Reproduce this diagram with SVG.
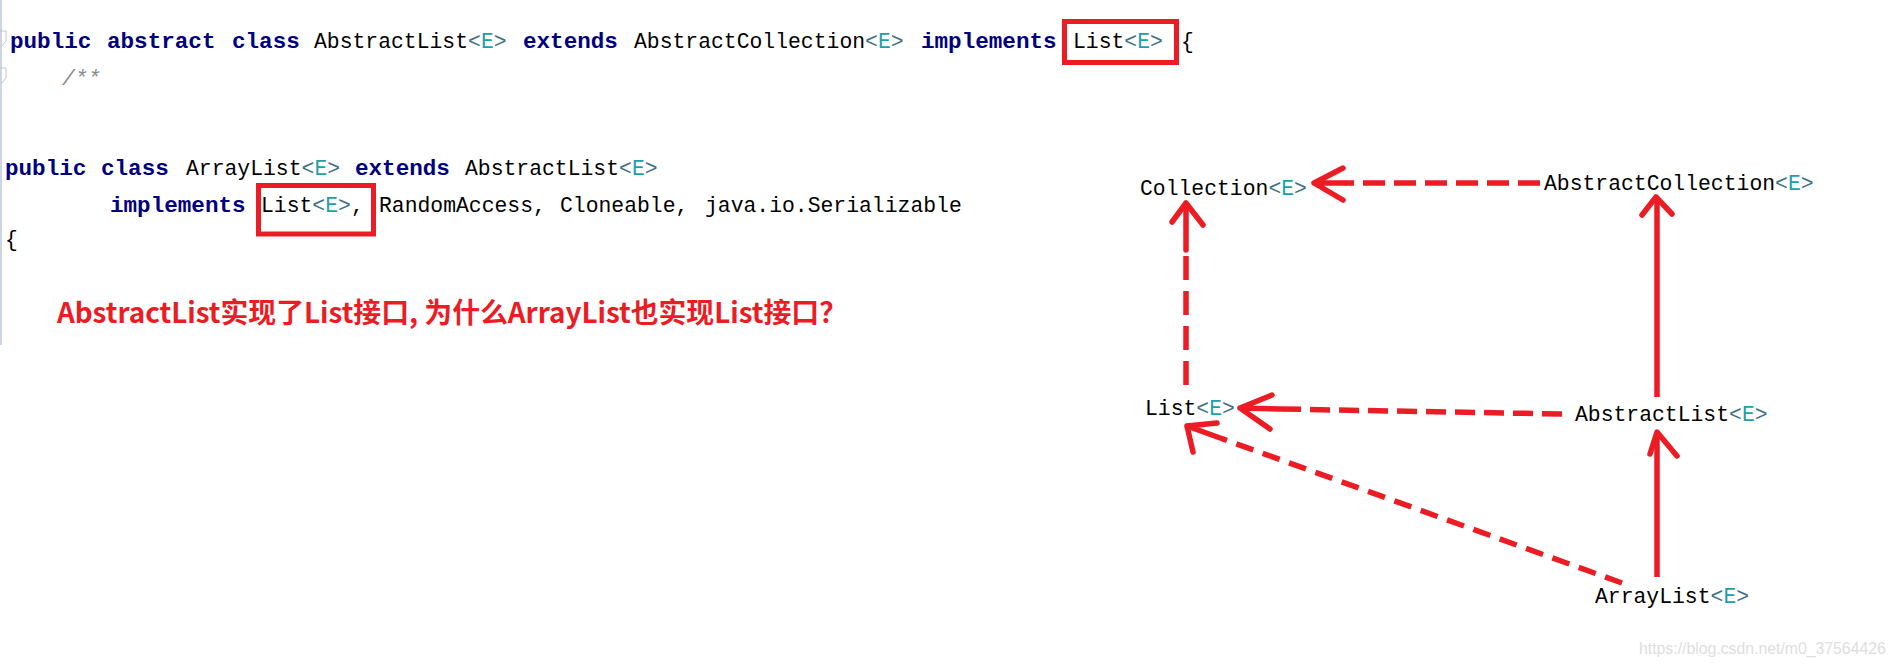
<svg xmlns="http://www.w3.org/2000/svg" width="1898" height="666" viewBox="0 0 1898 666">
<style>
.code{font-family:"Liberation Mono","DejaVu Sans Mono",monospace;font-size:21.4px;fill:#000}
.kw{font-weight:bold;font-size:22.6px;fill:#00007f}
.br{fill:#3d6f85}
.tp{fill:#1d9fa9}
.cm{font-style:italic;fill:#8a8a8a}
.title{font-family:"Noto Sans CJK SC","Noto Sans",sans-serif;font-size:28px;font-weight:bold;fill:#ec1c24}
.wm{font-family:"Liberation Sans",Arial,sans-serif;font-size:15.8px;fill:#dedede}
.box{fill:none;stroke:#ec1c24;stroke-width:5}
.line{fill:none;stroke:#ec1c24;stroke-width:5.5}
.head{fill:none;stroke:#ec1c24;stroke-width:5.5;stroke-linecap:round;stroke-linejoin:round}
</style>
<rect width="1898" height="666" fill="#fff"/>
<g id="editor-gutter">
<rect x="0" y="0" width="2" height="345" fill="#cdd5e4"/>
<path d="M0,31 H6 V41 L1,47 M0,68 H6 V78 L1,84" fill="none" stroke="#c4c4c4" stroke-width="1"/>
</g>
<g id="code-abstractlist">
<text class="code kw" x="10" y="47.5">public</text>
<text class="code kw" x="107" y="47.5">abstract</text>
<text class="code kw" x="232" y="47.5">class</text>
<text class="code" x="314" y="47.5">AbstractList<tspan class="br">&lt;</tspan><tspan class="tp">E</tspan><tspan class="br">&gt;</tspan></text>
<text class="code kw" x="523" y="47.5">extends</text>
<text class="code" x="634" y="47.5">AbstractCollection<tspan class="br">&lt;</tspan><tspan class="tp">E</tspan><tspan class="br">&gt;</tspan></text>
<text class="code kw" x="921" y="47.5">implements</text>
<text class="code" x="1073" y="47.5">List<tspan class="br">&lt;</tspan><tspan class="tp">E</tspan><tspan class="br">&gt;</tspan></text>
<text class="code" x="1181" y="47.5">{</text>
<text class="code cm" x="62" y="84.5">/**</text>
<rect class="box" x="1064.5" y="21.5" width="112" height="41"/>
</g>
<g id="code-arraylist">
<text class="code kw" x="5" y="175">public</text>
<text class="code kw" x="101" y="175">class</text>
<text class="code" x="186" y="175">ArrayList<tspan class="br">&lt;</tspan><tspan class="tp">E</tspan><tspan class="br">&gt;</tspan></text>
<text class="code kw" x="355" y="175">extends</text>
<text class="code" x="465" y="175">AbstractList<tspan class="br">&lt;</tspan><tspan class="tp">E</tspan><tspan class="br">&gt;</tspan></text>
<text class="code kw" x="110" y="212">implements</text>
<text class="code" x="261" y="212">List<tspan class="br">&lt;</tspan><tspan class="tp">E</tspan><tspan class="br">&gt;</tspan>,</text>
<text class="code" x="379" y="212">RandomAccess,</text>
<text class="code" x="560" y="212">Cloneable,</text>
<text class="code" x="705" y="212">java.io.Serializable</text>
<text class="code" x="5" y="246">{</text>
<rect class="box" x="258.5" y="185.5" width="115" height="48.5"/>
</g>
<g id="question">
<text class="title" x="57" y="323" textLength="790" lengthAdjust="spacingAndGlyphs">AbstractList实现了List接口, 为什么ArrayList也实现List接口？</text>
</g>
<g id="node-collection">
<text class="code" x="1140" y="195">Collection<tspan class="br">&lt;</tspan><tspan class="tp">E</tspan><tspan class="br">&gt;</tspan></text>
</g>
<g id="node-abstractcollection">
<text class="code" x="1544" y="190">AbstractCollection<tspan class="br">&lt;</tspan><tspan class="tp">E</tspan><tspan class="br">&gt;</tspan></text>
</g>
<g id="node-list">
<text class="code" x="1145" y="415">List<tspan class="br">&lt;</tspan><tspan class="tp">E</tspan><tspan class="br">&gt;</tspan></text>
</g>
<g id="node-abstractlist">
<text class="code" x="1575" y="421">AbstractList<tspan class="br">&lt;</tspan><tspan class="tp">E</tspan><tspan class="br">&gt;</tspan></text>
</g>
<g id="node-arraylist">
<text class="code" x="1595" y="603">ArrayList<tspan class="br">&lt;</tspan><tspan class="tp">E</tspan><tspan class="br">&gt;</tspan></text>
</g>
<g id="connectors">
<path class="line" d="M1540,183 H1345" stroke-dasharray="22 9"/>
<path class="head" d="M1343,168 L1314,183 L1343,200 M1314,183 H1345"/>
<path class="line" d="M1657,397 V199"/>
<path class="head" d="M1642,215 L1656,197 L1672,214"/>
<path class="line" d="M1186,385 V250" stroke-dasharray="24 11"/>
<path class="head" d="M1172,222 L1186,203 L1203,225 M1186,203 V250"/>
<path class="line" d="M1562,414 L1280,409" stroke-dasharray="20 9"/>
<path class="head" d="M1272,395 L1240,408 L1270,429 M1240,408 L1280,409"/>
<path class="line" d="M1657,577 V435"/>
<path class="head" d="M1650,454 L1657,432 L1677,456"/>
<path class="line" d="M1622,583 L1223,439" stroke-dasharray="18 10"/>
<path class="head" d="M1217,423 L1187,426 L1193,452 M1187,426 L1223,439"/>
</g>
<text class="wm" x="1639" y="654">https://blog.csdn.net/m0_37564426</text>
</svg>
